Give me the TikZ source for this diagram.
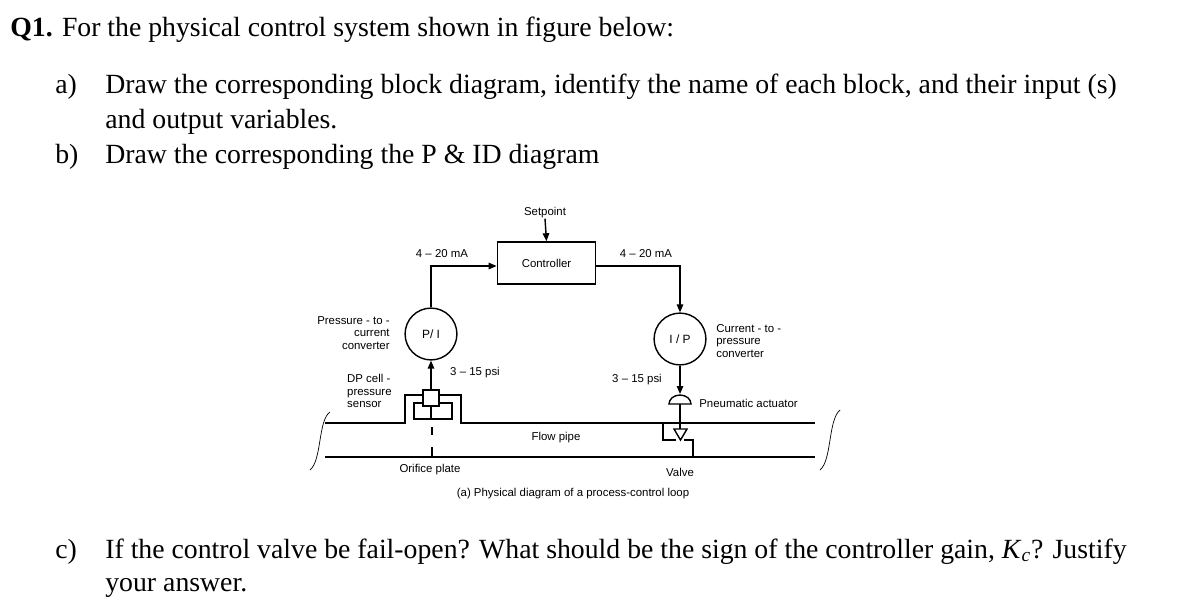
\documentclass[tikz,border=0pt]{standalone}
\usepackage{fontspec}
\setmainfont{Liberation Serif}
\newfontfamily\labelfont{Liberation Sans}
\usetikzlibrary{arrows.meta, positioning}

\begin{document}
\begin{tikzpicture}[
      x=0.02cm, y=-0.02cm,
      txt/.style={font=\fontsize{15.8}{18}\selectfont, anchor=base west, inner sep=0pt},
      lbl/.style={font=\labelfont\fontsize{6.5}{7.3}\selectfont, inner sep=0pt, align=center},
      conv/.style={draw, circle, thick, minimum size=29.5pt, inner sep=0pt, font=\labelfont\fontsize{6.8}{7}\selectfont},
      arrow/.style={-{Triangle[length=1.6mm, width=1.3mm]}, thick},
      pipe/.style={thick}
    ]
        \useasboundingbox (0,0) rectangle (1179,600);
        % question text
        \node[txt] (q1) at (10,36) {\textbf{Q1.} For the physical control system shown in figure below:};
        \node[txt] (qa) at (55,93) {a)};
        \node[txt] (qatext) at (105,93) {Draw the corresponding block diagram, identify the name of each block, and their input (s)};
        \node[txt] (qa2) at (105,128) {and output variables.};
        \node[txt] (qb) at (55,163) {b)};
        \node[txt] (qbtext) at (105,163) {Draw the corresponding the P \& ID diagram};
        \node[txt] (qc) at (55,558) {c)};
        \node[txt] (qctext) at (105,558) {If the control valve be fail-open? What should be the sign of the controller gain, \textit{K}\textsubscript{\textit{c}}? Justify};
        \node[txt] (qc2) at (105,591) {your answer.};

        % loop
        \node[lbl] (sp) at (545,213) {Setpoint};
        \node[draw, thick, minimum width=56pt, minimum height=24pt, lbl, inner sep=0pt] (ctrl) at (546.5,263) {Controller};
        \node[conv] (pi) at (431,334) {P/ I};
        \node[conv] (ip) at (680,339) {I / P};
        \coordinate (dp) at (431,390);
        \coordinate (act) at (680,394);

        \draw[arrow] (sp.south) -- (ctrl.north);
        \draw[arrow] (pi.north) |- (ctrl.west |- 0,266);
        \draw[arrow] (ctrl.east |- 0,266) -| (ip.north);
        \draw[arrow] (dp) -- (pi.south);
        \draw[arrow] (ip.south) -- (act);

        \node[lbl] (ma1) at (442,254) {4 – 20 mA};
        \node[lbl] (ma2) at (646,254) {4 – 20 mA};
        \node[lbl] (psi1) at (475,373) {3 – 15 psi};
        \node[lbl] (psi2) at (637,380) {3 – 15 psi};
        \node[lbl, align=right, anchor=east] (ptc) at (390,333) {Pressure - to -\\current\\converter};
        \node[lbl, align=left, anchor=west] (ctp) at (716,341) {Current - to -\\pressure\\converter};
        \node[lbl, align=left, anchor=east] (dpl) at (392,391) {DP cell -\\pressure\\sensor};
        \node[lbl, anchor=west] (pa) at (699,403) {Pneumatic actuator};
        \node[lbl] (fp) at (556,438) {Flow pipe};
        \node[lbl] (op) at (430,470) {Orifice plate};
        \node[lbl] (vl) at (680,472) {Valve};
        \node[lbl] (cap) at (573,494) {(a) Physical diagram of a process-control loop};

        % pipe
        \draw[pipe] (325,423) -- (405,423) |- (423,395);
        \draw[pipe] (439,395) -| (461,423) -- (815,423);
        \draw[pipe] (325,457) -- (815,457);
        \draw (330,412) .. controls (318,420) and (322,460) .. (310,470);
        \draw (840,410) .. controls (828,420) and (832,460) .. (820,470);

        % DP cell
        \draw[thick, fill=white] (423,390) rectangle (439,406);
        \draw[thick] (423,403) -| (414,419) -| (452,403) -- (439,403);
        \draw[thick] (431,406) -- (431,419);
        \draw[thick] (432,427) -- (432,435);
        \draw[thick] (432,447) -- (432,457);

        % valve
        \draw[thick] (669,404) arc (180:360:11 and 9) -- cycle;
        \draw[thick] (680,404) -- (680,429);
        \draw[thick] (674,429) -- (687,429) -- (680.5,440) -- cycle;
        \draw[thick] (663,423) |- (676,440);
        \draw[thick] (684,440) -| (693,457);
    \end{tikzpicture}
\end{document}
